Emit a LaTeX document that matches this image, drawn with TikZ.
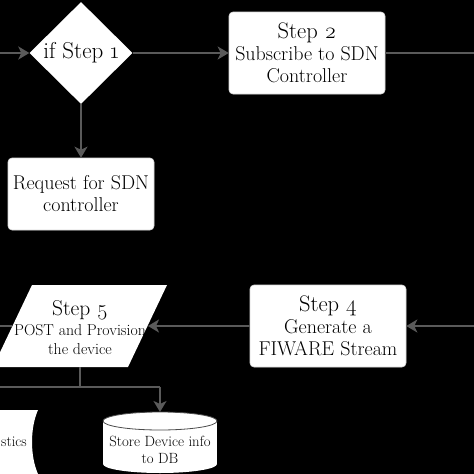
\documentclass[tikz,border=0pt]{standalone}
\usepackage{fontspec}
\setmainfont{Latin Modern Roman}[Numbers=OldStyle]
\usetikzlibrary{shapes.geometric,arrows.meta}
\definecolor{linec}{HTML}{5A5A5A}
\newcommand{\bigt}{\fontsize{22.5}{24}\selectfont}
\newcommand{\midt}{\fontsize{20}{22}\selectfont}
\newcommand{\smt}{\fontsize{15.8}{19.5}\selectfont}
\newcommand{\tinyt}{\fontsize{14.8}{16.5}\selectfont}
\begin{document}
\begin{tikzpicture}[x=1pt,y=-1pt,
  conn/.style={draw=linec, line width=2.4pt},
  arr/.style={conn, -{Stealth[length=11pt,width=13pt,inset=3pt]}},
  boxw/.style={rectangle, rounded corners=4pt, fill=white, draw=white!85!black, line width=0.6pt, inner sep=0pt, align=center, text=black},
  txt/.style={align=center, inner sep=0pt, text=black}
]
\fill[black] (0,0) rectangle (474,474);
\useasboundingbox (0,0) rectangle (474,474);

% nodes
\node[diamond, fill=white, minimum width=103pt, minimum height=102pt, inner sep=0pt, font=\fontsize{23}{25}\selectfont] (d1) at (81,53) {if Step 1};
\node[boxw, font=\midt, minimum width=156pt, minimum height=82pt] (s2) at (307,53) {{\bigt Step 2}\\Subscribe to SDN\\Controller};
\node[boxw, font=\midt, minimum width=146pt, minimum height=72pt] (req) at (81,194) {Request for SDN\\controller};
\node[boxw, font=\midt, minimum width=156pt, minimum height=82pt] (s4) at (328,326) {{\bigt Step 4}\\Generate a\\FIWARE Stream};

% Step 5 parallelogram
\fill[white] (32,285) -- (167,285) -- (128,367) -- (-7,367) -- cycle;
\node[txt, font=\smt] (s5) at (80,328) {{\fontsize{21.5}{23}\selectfont Step 5}\\POST and Provision\\the device};
\coordinate (s5r) at (148,326);
\coordinate (s5l) at (12,326);
\coordinate (s5b) at (80,367);

% cylinder
\fill[white] (103,421) rectangle (217,464);
\fill[white] (160,464) ellipse [x radius=57, y radius=9];
\filldraw[fill=white, draw=black!70, line width=0.8pt] (160,421) ellipse [x radius=57, y radius=9];
\node[txt, font=\tinyt] (db) at (160,450) {Store Device info\\to DB};
\coordinate (dbtop) at (160,412);

% stored data shape at left
\fill[white] (-10,410) -- (38,410) .. controls (30,428) and (30,456) .. (38,474) -- (-10,474) -- cycle;
\node[txt, anchor=east, font=\tinyt] (stat) at (27,442) {stics};

% free ends
\coordinate (inL) at (0,53);
\coordinate (outR) at (474,53);
\coordinate (inR) at (474,326);
\coordinate (outL) at (0,326);
\coordinate (j) at (80,387);
\coordinate (jl) at (0,387);
\coordinate (jr) at (160,387);

% connectors
\draw[arr] (inL) -- (d1.west);
\draw[arr] (d1.east) -- (s2.west);
\draw[conn] (s2.east) -- (outR);
\draw[arr] (d1.south) -- (req.north);
\draw[arr] (inR) -- (s4.east);
\draw[arr] (s4.west) -- (s5r);
\draw[conn] (s5l) -- (outL);
\draw[conn] (s5b) -- (j);
\draw[conn] (jl) -- (jr);
\draw[arr] (jr) -- (dbtop);
\end{tikzpicture}
\end{document}
